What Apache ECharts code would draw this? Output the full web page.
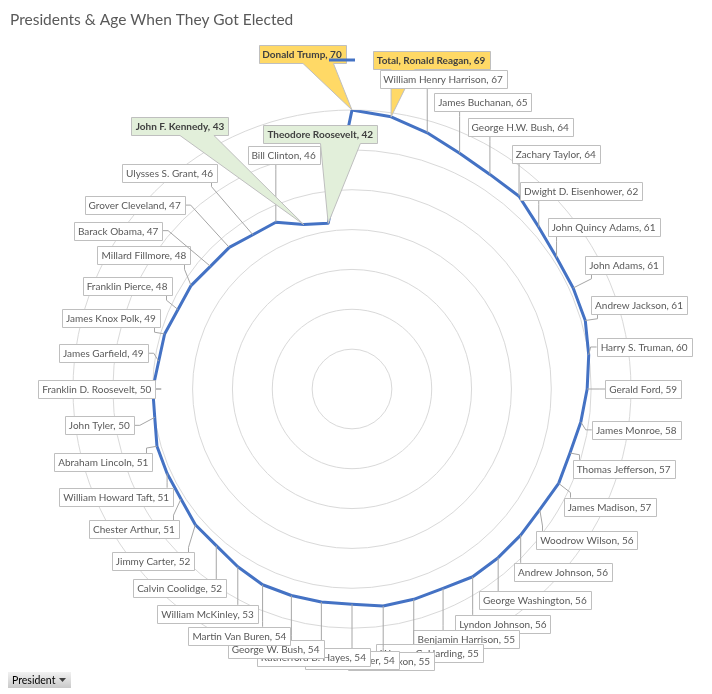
<!DOCTYPE html>
<html>
<head>
<meta charset="utf-8">
<title>Presidents &amp; Age When They Got Elected</title>
<script src="https://cdn.jsdelivr.net/npm/echarts@6/dist/echarts.min.js"></script>
<style>
html, body { margin: 0; padding: 0; background: #fff; }
#main { width: 712px; height: 694px; }
</style>
</head>
<body>
<div id="main"></div>
<script>
// presidents, clockwise from the top, sorted by age when elected
var presidents = [
	'Donald Trump', 'Ronald Reagan', 'William Henry Harrison', 'James Buchanan', 'George H.W. Bush',
	'Zachary Taylor', 'Dwight D. Eisenhower', 'John Quincy Adams', 'John Adams', 'Andrew Jackson',
	'Harry S. Truman', 'Gerald Ford', 'James Monroe', 'Thomas Jefferson', 'James Madison',
	'Woodrow Wilson', 'Andrew Johnson', 'George Washington', 'Lyndon Johnson', 'Benjamin Harrison',
	'Warren G. Harding', 'Richard Nixon', 'Herbert Hoover', 'Rutherford B. Hayes', 'George W. Bush',
	'Martin Van Buren', 'William McKinley', 'Calvin Coolidge', 'Jimmy Carter', 'Chester Arthur',
	'William Howard Taft', 'Abraham Lincoln', 'John Tyler', 'Franklin D. Roosevelt', 'James Garfield',
	'James Knox Polk', 'Franklin Pierce', 'Millard Fillmore', 'Barack Obama', 'Grover Cleveland',
	'Ulysses S. Grant', 'Bill Clinton', 'John F. Kennedy', 'Theodore Roosevelt'
];
var ages = [
	70, 69, 67, 65, 64, 64, 62, 61, 61, 61,
	60, 59, 58, 57, 57, 56, 56, 56, 56, 55,
	55, 55, 54, 54, 54, 54, 53, 52, 52, 51,
	51, 51, 50, 50, 49, 49, 48, 48, 47, 47,
	46, 46, 43, 42
];
var seriesName = 'Total';
var radiusTicks = [0, 70, 10]; // min, max, step

// ---- label look ----
var FONT = '10px Lato, "Open Sans", sans-serif';
var GAP = 56;           // callout centre sits this far out from its point
var BOX_H = 18;
// callouts that were dragged by hand in the original (px from default spot)
var nudges = {
	'Donald Trump': [-50, 0],
	'Ronald Reagan': [32, -1],
	'John F. Kennedy': [-108, -45],
	'Theodore Roosevelt': [0, -34],
	'Bill Clinton': [31, -16],
	'Ulysses S. Grant': [-53, -15],
	'Grover Cleveland': [-58, 0],
	'Barack Obama': [-50, 1]
};
var callouts = {
	'Donald Trump': '#FFD966',
	'Ronald Reagan': '#FFD966',
	'John F. Kennedy': '#E2EFDA',
	'Theodore Roosevelt': '#E2EFDA'
};
var showSeriesName = { 'Ronald Reagan': true };

var measureCtx = document.createElement('canvas').getContext('2d');
function textWidth(s, font) {
	measureCtx.font = font;
	return measureCtx.measureText(s).width;
}
function clamp(v, a, b) { return Math.max(a, Math.min(b, v)); }

var lineData = ages.map(function (a, i) { return [a, i]; });
lineData.push([ages[0], presidents.length]); // close the loop

function renderLabel(params, api) {
	var age = api.value(0), idx = api.value(1);
	var name = presidents[idx];
	var p = api.coord([age, idx]);
	var cs = params.coordSys;
	var vx = p[0] - cs.cx, vy = p[1] - cs.cy;
	var len = Math.sqrt(vx * vx + vy * vy) || 1;
	var nd = nudges[name] || [0, 0];
	var cx = p[0] + vx / len * GAP + nd[0];
	var cy = p[1] + vy / len * GAP + nd[1];

	var fill = callouts[name];
	var font = (fill ? 'bold ' : '') + FONT;
	var text = (showSeriesName[name] ? seriesName + ', ' : '') + name + ', ' + age;
	var w = Math.round(textWidth(text, font) + 8);
	var h = BOX_H;
	var x0 = Math.round(cx - w / 2) + 0.5, y0 = Math.round(cy - h / 2) + 0.5;
	var x1 = x0 + w, y1 = y0 + h;
	var children = [];

	if (fill) {
		// wedge callout: box + pointer drawn as one outline
		var b0, b1;
		if (p[0] >= cx) { b0 = x0 + 0.5 * w; b1 = x0 + 0.85 * w; }
		else { b0 = x0 + 0.15 * w; b1 = x0 + 0.35 * w; }
		var pts;
		if (p[1] > y1) {
			pts = [[x0, y0], [x1, y0], [x1, y1], [b1, y1], [p[0], p[1]], [b0, y1], [x0, y1]];
		} else {
			pts = [[x0, y0], [b0, y0], [p[0], p[1]], [b1, y0], [x1, y0], [x1, y1], [x0, y1]];
		}
		children.push({
			type: 'polygon',
			shape: { points: pts },
			style: { fill: fill, stroke: '#bfbfbf', lineWidth: 1 }
		});
	} else {
		var dx = p[0] - cx, dy = p[1] - cy;
		var a, s;
		if (Math.abs(dx) - w / 2 > Math.abs(dy) - h / 2) {
			var sx = dx > 0 ? 1 : -1;
			a = [cx + sx * w / 2, cy];
			s = [a[0] + sx * 6, cy];
		} else {
			var sy = dy > 0 ? 1 : -1;
			a = [clamp(p[0], x0 + 6, x1 - 6), cy + sy * h / 2];
			s = [a[0], a[1] + sy * 5];
		}
		children.push({
			type: 'polyline',
			shape: { points: [a, s, p] },
			style: { stroke: '#a6a6a6', lineWidth: 1, fill: null }
		});
		children.push({
			type: 'rect',
			shape: { x: x0, y: y0, width: w, height: h },
			style: { fill: '#fff', stroke: '#bfbfbf', lineWidth: 1 }
		});
	}
	children.push({
		type: 'text',
		style: {
			text: text, x: cx, y: y0 + h / 2 + 0.5,
			align: 'center', verticalAlign: 'middle',
			font: font, fill: fill ? '#404040' : '#595959'
		}
	});
	return { type: 'group', children: children };
}

var chart = echarts.init(document.getElementById('main'), null, { renderer: 'canvas' });
chart.setOption({
	animation: false,
	backgroundColor: '#fff',
	title: {
		text: 'Presidents & Age When They Got Elected',
		left: 5, top: 7,
		textStyle: { fontFamily: 'Lato, "Open Sans", sans-serif', fontSize: 15.5, fontWeight: 'normal', color: '#595959' }
	},
	polar: { center: [352, 389], radius: 279 },
	angleAxis: {
		type: 'value', min: 0, max: presidents.length,
		startAngle: 90, clockwise: true,
		axisLine: { show: false }, axisTick: { show: false },
		axisLabel: { show: false }, splitLine: { show: false }
	},
	radiusAxis: {
		type: 'value', min: radiusTicks[0], max: radiusTicks[1], interval: radiusTicks[2],
		axisLine: { show: false }, axisTick: { show: false }, axisLabel: { show: false },
		splitLine: { show: true, lineStyle: { color: '#d9d9d9', width: 1 } }
	},
	series: [{
		name: seriesName,
		type: 'line',
		coordinateSystem: 'polar',
		data: lineData,
		symbol: 'none',
		lineStyle: { color: '#4472C4', width: 3, join: 'round' },
		z: 3
	}, {
		type: 'custom',
		coordinateSystem: 'polar',
		data: ages.map(function (a, i) { return [a, i]; }),
		renderItem: renderLabel,
		z: 5
	}],
	graphic: [
		// legend key peeking out next to the Trump callout
		{ type: 'line', z: 100, shape: { x1: 329, y1: 60, x2: 355, y2: 60 }, style: { stroke: '#4472C4', lineWidth: 3 } },
		// pivot field button
		{
			type: 'rect', left: 8, top: 672, z: 100,
			shape: { width: 63, height: 16 },
			style: {
				fill: new echarts.graphic.LinearGradient(0, 0, 0, 1, [
					{ offset: 0, color: '#f2f2f2' }, { offset: 1, color: '#c9c9c9' }
				])
			}
		},
		{ type: 'text', z: 101, style: { text: 'President', x: 12, y: 680.5, verticalAlign: 'middle', font: '10.5px Lato, sans-serif', fill: '#000' } },
		{ type: 'polygon', z: 101, shape: { points: [[59, 678], [66, 678], [62.5, 682]] }, style: { fill: '#404040' } }
	]
});
</script>
</body>
</html>
